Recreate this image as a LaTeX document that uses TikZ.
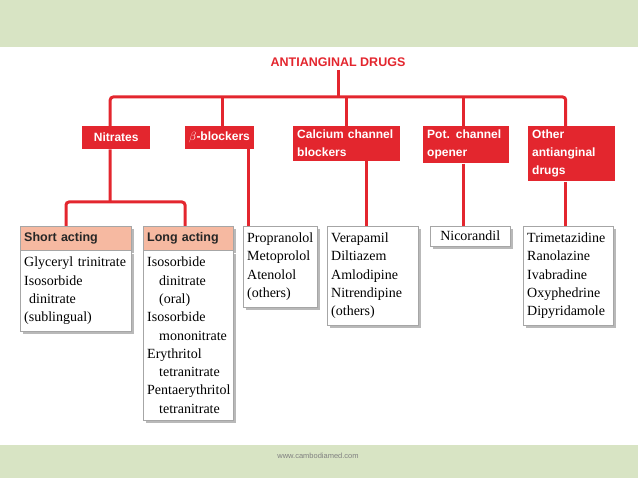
\documentclass[tikz,border=0pt]{standalone}
\usepackage{fontspec}
\setmainfont{Liberation Serif}
\setsansfont{Liberation Sans}
\usetikzlibrary{positioning,shadows}
\definecolor{band}{HTML}{D8E4C4}
\definecolor{drugred}{HTML}{E3262E}
\definecolor{salmon}{HTML}{F6B9A1}
\newcommand{\nohyph}{\hyphenpenalty=10000\exhyphenpenalty=10000}
\tikzset{
  cls/.style={fill=drugred,text=white,font=\sffamily\bfseries\fontsize{12}{18}\selectfont\nohyph,
    anchor=north west,align=left,inner sep=4pt},
  drug/.style={draw=gray!70,fill=white,anchor=north west,align=left,inner xsep=4pt,inner ysep=6.5pt,
    font=\fontsize{14}{18.3}\selectfont\nohyph,drop shadow={shadow xshift=3pt,shadow yshift=-3pt,fill=gray!55,opacity=1}},
  head/.style={draw=gray!70,fill=salmon,anchor=north west,inner sep=4pt,minimum height=24pt,
    font=\sffamily\bfseries\fontsize{12.5}{15}\selectfont,text=black!85,
    drop shadow={shadow xshift=3pt,shadow yshift=-3pt,fill=gray!55,opacity=1}},
  link/.style={drugred,line width=3pt,rounded corners=3pt}
}
\begin{document}
\begin{tikzpicture}[x=1pt,y=-1pt]
  \useasboundingbox (0,0) rectangle (638,478);
  \fill[band] (0,0) rectangle (638,47);
  \fill[band] (0,445) rectangle (638,478);
  \node[font=\sffamily\fontsize{7.5}{9}\selectfont,text=gray] (site) at (318,456) {www.cambodiamed.com};
  \node[text=drugred,font=\sffamily\bfseries\fontsize{12.5}{15}\selectfont] (title) at (338,62) {ANTIANGINAL DRUGS};
  % classes
  \node[cls,minimum width=68pt,minimum height=23pt] (nit) at (82,126) {Nitrates};
  \node[cls,minimum width=68pt,minimum height=23pt] (beta) at (185,126) {$\beta$-blockers};
  \node[cls,text width=99pt] (cal) at (293,126) {Calcium channel\\blockers};
  \node[cls,text width=78pt] (pot) at (423,126) {Pot. channel\\opener};
  \node[cls,text width=79pt] (oth) at (528,126) {Other\\antianginal\\drugs};
  \coordinate (bus) at (338,97);
  \draw[link] (title.south) -- (bus);
  \draw[link] ([xshift=-6pt]nit.north) |- (bus) -| ([xshift=-6pt]oth.north);
  \foreach \n/\dx in {beta/3,cal/0,pot/-3} {
    \draw[link] ([xshift=\dx pt]\n.north) -- ([xshift=\dx pt]\n.north |- bus);
  }
  % drug lists
  \node[head,minimum width=111pt,text width=103pt] (short) at (20,226) {Short acting};
  \node[drug,text width=103pt,below=0pt of short.south west,anchor=north west] (shortlist)
    {Glyceryl trinitrate\\Isosorbide\\\hspace*{5pt}dinitrate\\(sublingual)};
  \node[head,minimum width=90pt,text width=82pt] (long) at (143,226) {Long acting};
  \node[drug,text width=82pt,below=0pt of long.south west,anchor=north west] (longlist)
    {Isosorbide\\\hspace*{12pt}dinitrate\\\hspace*{12pt}(oral)\\Isosorbide\\\hspace*{12pt}mononitrate\\Erythritol\\\hspace*{12pt}tetranitrate\\Pentaerythritol\\\hspace*{12pt}tetranitrate};
  \node[drug,text width=66pt] (bl) at (243,226) {Propranolol\\Metoprolol\\Atenolol\\(others)};
  \node[drug,text width=83pt] (cl) at (327,226) {Verapamil\\Diltiazem\\Amlodipine\\Nitrendipine\\(others)};
  \node[drug,text width=72pt,align=center,inner ysep=5pt] (pl) at (430,226) {Nicorandil};
  \node[drug,text width=82pt] (ol) at (523,226) {Trimetazidine\\Ranolazine\\Ivabradine\\Oxyphedrine\\Dipyridamole};
  % drops
  \coordinate (split) at (110,202);
  \draw[link] ([xshift=-6pt]nit.south) -- (split);
  \draw[link] ([xshift=46pt]short.north west) |- (split) -| ([xshift=42pt]long.north west);
  \draw[link] ([xshift=-6pt]beta.south east) -- ([xshift=-6pt]beta.south east |- bl.north);
  \draw[link] ([xshift=20pt]cal.south) -- ([xshift=20pt]cal.south |- cl.north);
  \draw[link] ([xshift=-3pt]pot.south) -- ([xshift=-3pt]pot.south |- pl.north);
  \draw[link] ([xshift=-6pt]oth.south) -- ([xshift=-6pt]oth.south |- ol.north);
\end{tikzpicture}
\end{document}
